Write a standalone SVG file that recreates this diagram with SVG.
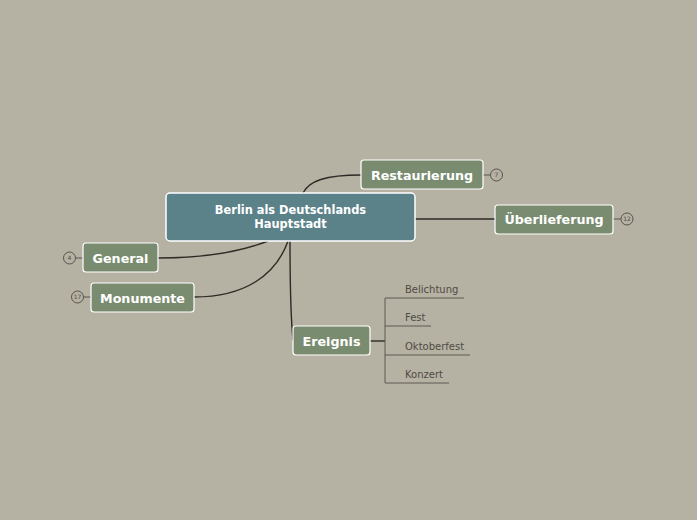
<svg xmlns="http://www.w3.org/2000/svg" width="697" height="520" viewBox="0 0 697 520">
<style>
.node{fill:#7a8c70;stroke:#ffffff;stroke-width:1.2}
.center{fill:#5b8288;stroke:#ffffff;stroke-width:1.5}
.lbl{font-family:"DejaVu Sans",Verdana,sans-serif;font-weight:bold;fill:#ffffff;text-anchor:middle}
.conn{fill:none;stroke:#2e2a25;stroke-width:1.4}
.sub{fill:none;stroke:#5e5a52;stroke-width:1}
.subtxt{font-family:"DejaVu Sans",Verdana,sans-serif;font-size:10px;fill:#4f4c45}
.cnt{fill:none;stroke:#4f4b44;stroke-width:0.9}
.cnttxt{font-family:"DejaVu Sans",sans-serif;font-size:6px;fill:#4f4b44;text-anchor:middle}
</style>
<rect width="697" height="520" fill="#b5b1a3"/>
<g id="connectors">
<path class="conn" d="M303,193 C309,181 325,175 361,175"/>
<path class="conn" d="M415,219 L495,219"/>
<path class="conn" d="M268,241 C240,252 205,258 158,258"/>
<path class="conn" d="M288,241 C276,275 245,297 194,297"/>
<path class="conn" d="M290,241 C290,290 291,320 293,340" stroke-width="2"/>
<path class="conn" d="M370,341 L385,341" stroke-width="1.8"/>
<path class="cnt" d="M483,175 L490,175 M613,219 L621,219 M76,258 L83,258 M84,297 L91,297"/>
</g>
<g id="n-center">
<rect class="center" x="166" y="193" width="249" height="48" rx="4"/>
<text class="lbl" font-size="11.4" x="290.5" y="214">Berlin als Deutschlands</text>
<text class="lbl" font-size="11.4" x="290.5" y="228">Hauptstadt</text>
</g>
<g id="n-restaurierung">
<rect class="node" x="361" y="160" width="122" height="29" rx="3"/>
<text class="lbl" font-size="12.7" x="422" y="180">Restaurierung</text>
<circle class="cnt" cx="496.5" cy="175" r="6"/>
<text class="cnttxt" x="496.5" y="177">7</text>
</g>
<g id="n-ueberlieferung">
<rect class="node" x="495" y="205" width="118" height="29" rx="3"/>
<text class="lbl" font-size="12.7" x="554" y="224">Überlieferung</text>
<circle class="cnt" cx="627" cy="219" r="6"/>
<text class="cnttxt" x="627" y="221">12</text>
</g>
<g id="n-general">
<rect class="node" x="83" y="243" width="75" height="29" rx="3"/>
<text class="lbl" font-size="12.7" x="120.5" y="263">General</text>
<circle class="cnt" cx="69.5" cy="258" r="6"/>
<text class="cnttxt" x="69.5" y="260">4</text>
</g>
<g id="n-monumente">
<rect class="node" x="91" y="283" width="103" height="29" rx="3"/>
<text class="lbl" font-size="12.7" x="142.5" y="303">Monumente</text>
<circle class="cnt" cx="77.5" cy="297" r="6"/>
<text class="cnttxt" x="77.5" y="299">17</text>
</g>
<g id="n-ereignis">
<rect class="node" x="293" y="326" width="77" height="29" rx="3"/>
<text class="lbl" font-size="12.7" x="331.5" y="346">Ereignis</text>
</g>
<g id="sub-ereignis">
<path class="sub" d="M385,298 L385,383 M385,298 L464,298 M385,326 L431,326 M385,355 L470,355 M385,383 L449,383"/>
<text class="subtxt" x="405" y="293">Belichtung</text>
<text class="subtxt" x="405" y="321">Fest</text>
<text class="subtxt" x="405" y="350">Oktoberfest</text>
<text class="subtxt" x="405" y="378">Konzert</text>
</g>
</svg>
